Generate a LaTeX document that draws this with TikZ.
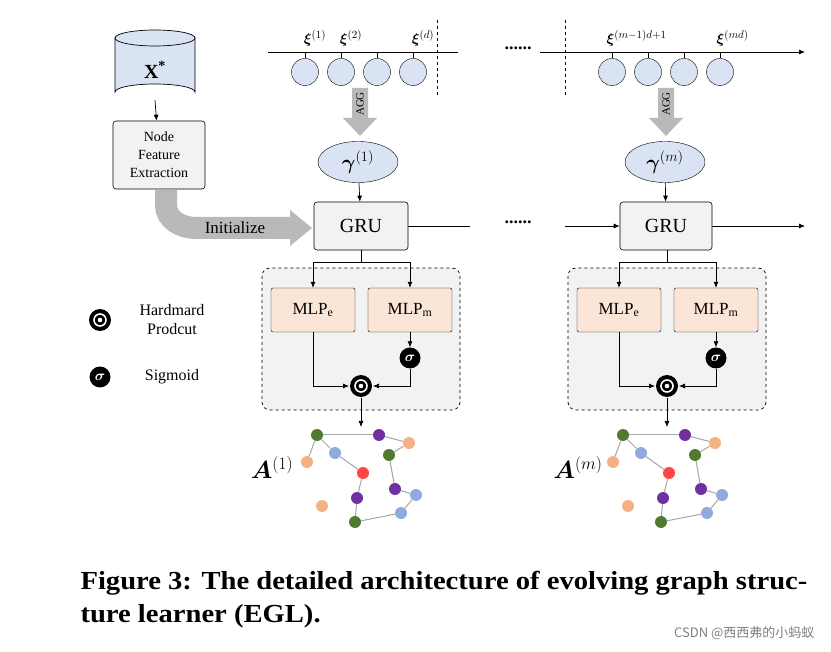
\documentclass[tikz,border=0pt]{standalone}
\usepackage{fontspec}
\usepackage{amsmath,bm}
\setmainfont{Liberation Serif}
\newfontfamily\cjk{Noto Sans CJK SC}
\usetikzlibrary{arrows.meta,shapes.geometric,calc}
\definecolor{nblue}{HTML}{DAE3F3}
\definecolor{ngray}{HTML}{F2F2F2}
\definecolor{npeach}{HTML}{FBE5D6}
\definecolor{gGreen}{HTML}{507A32}
\definecolor{gPurple}{HTML}{7030A0}
\definecolor{gOrange}{HTML}{F4B183}
\definecolor{gBlue}{HTML}{8FAADC}
\definecolor{gRed}{HTML}{FF4545}
\tikzset{
  box/.style={draw, rounded corners=3pt, fill=ngray, line width=0.6pt},
  mlp/.style={draw, rounded corners=2pt, fill=npeach, minimum width=84pt, minimum height=44pt, font=\fontsize{17}{19}\selectfont},
  slot/.style={circle, draw, fill=nblue, minimum size=27pt, inner sep=0pt},
  arr/.style={-{Latex[length=6pt,width=5pt]}, line width=0.7pt},
  sig/.style={circle, fill=black, text=white, minimum size=21pt, inner sep=0pt, font=\fontsize{15}{15}\selectfont},
  xi/.style={font=\fontsize{15}{15}\selectfont},
  gn/.style={circle, fill=#1, minimum size=12pt, inner sep=0pt},
  ge/.style={draw=gray!70, line width=1pt},
  agg/.style={fill=gray!55, draw=none},
  captxt/.style={anchor=west, font=\fontsize{26}{26}\selectfont\bfseries},
  pics/hada/.style={code={
    \fill[black] (0,0) circle (11pt);
    \draw[white, line width=1.6pt] (0,0) circle (6pt);
    \fill[white] (0,0) circle (2.3pt);}}
}
\begin{document}
\begin{tikzpicture}[x=1pt,y=-1pt]
\useasboundingbox (0,0) rectangle (831,652);

% cylinder input
\fill[nblue] (115,38) -- (115,92) arc[start angle=180,end angle=360,x radius=40,y radius=8] -- (195,38) -- cycle;
\draw[line width=0.7pt] (115,38) -- (115,92) arc[start angle=180,end angle=360,x radius=40,y radius=8] -- (195,38);
\draw[line width=0.7pt, fill=nblue] (155,38) ellipse[x radius=40, y radius=8];
\node[font=\fontsize{20}{20}\selectfont\bfseries] (X) at (155,70) {X\textsuperscript{*}};
\coordinate (cylb) at (155,100);
\node[box, minimum width=92pt, minimum height=68pt, align=center, font=\fontsize{14}{18}\selectfont] (nfe) at (159,155) {Node\\Feature\\Extraction};
\draw[arr] (cylb) -- (nfe);

% initialize arrow
\draw[gray!55, line width=22pt] (166,190) -- (166,205) to[out=-90,in=180] (196,228) -- (292,228);
\fill[gray!55] (290,210) -- (312,228) -- (290,246) -- cycle;
\node[font=\fontsize{17}{17}\selectfont] at (235,228) {Initialize};

% timeline left
\draw[line width=0.8pt] (268,52) -- (458,52);
\draw[dashed, line width=0.8pt] (437,20) -- (437,96);
\foreach \i/\x in {1/305,2/341,3/377,4/413}{
  \draw (\x,52) -- (\x,58);
  \node[slot] (s\i) at (\x,72) {};
}
\node[xi] at (315,38) {$\bm{\xi}^{(1)}$};
\node[xi] at (351,38) {$\bm{\xi}^{(2)}$};
\node[xi] at (423,38) {$\bm{\xi}^{(d)}$};
\node[font=\fontsize{18}{18}\selectfont\bfseries] at (518,48) {......};

% timeline right
\draw[arr] (540,52) -- (805,52);
\draw[dashed, line width=0.8pt] (565,20) -- (565,96);
\foreach \i/\x in {5/612,6/648,7/684,8/720}{
  \draw (\x,52) -- (\x,58);
  \node[slot] (s\i) at (\x,72) {};
}
\node[xi, anchor=west] at (603,38) {$\bm{\xi}^{(m-1)d+1}$};
\node[xi, anchor=west] at (713,38) {$\bm{\xi}^{(md)}$};

% AGG arrows
\foreach \x in {360,666}{
  \fill[agg] (\x-8,88) rectangle (\x+8,118) (\x-17,118) -- (\x+17,118) -- (\x,136) -- cycle;
  \node[rotate=90, font=\fontsize{11}{11}\selectfont] at (\x,104) {AGG};
}

% gamma nodes and GRUs
\node[ellipse, draw, fill=nblue, minimum width=80pt, minimum height=40pt, font=\fontsize{22}{22}\selectfont] (g1) at (358,162) {$\bm{\gamma}^{(1)}$};
\node[ellipse, draw, fill=nblue, minimum width=80pt, minimum height=40pt, font=\fontsize{22}{22}\selectfont] (gm) at (665,162) {$\bm{\gamma}^{(m)}$};
\node[box, minimum width=94pt, minimum height=48pt, font=\fontsize{20}{20}\selectfont] (gru1) at (361,226) {GRU};
\node[box, minimum width=92pt, minimum height=48pt, font=\fontsize{20}{20}\selectfont] (grum) at (666,226) {GRU};
\draw[arr] (g1) -- (gru1);
\draw[arr] (gm) -- (grum);
\coordinate (h1) at (470,226);
\coordinate (h2) at (565,226);
\coordinate (hend) at (805,226);
\draw[line width=0.7pt] (gru1) -- (h1);
\node[font=\fontsize{18}{18}\selectfont\bfseries] at (518,222) {......};
\draw[arr] (h2) -- (grum);
\draw[arr] (grum) -- (hend);

% two decoder blocks
\foreach \dx/\sup/\tag in {0/1/a,306/m/b}{
  \begin{scope}[xshift=\dx]
    \draw[dashed, rounded corners=8pt, fill=ngray, line width=0.7pt] (262,268) rectangle (460,410);
    \node[mlp] (me\tag) at (313,310) {MLP\textsubscript{e}};
    \node[mlp] (mm\tag) at (410,310) {MLP\textsubscript{m}};
    \node[sig] (sg\tag) at (410,358) {$\bm{\sigma}$};
    \coordinate (hd\tag) at (361,386);
    \pic at (hd\tag) {hada};
    \draw[arr] (361,250) -- (361,262) -| (me\tag);
    \draw[arr] (361,262) -| (mm\tag);
    \draw[arr] (mm\tag) -- (sg\tag);
    \draw[arr] (me\tag.south) |- ($(hd\tag)+(-12,0)$);
    \draw[arr] (sg\tag.south) |- ($(hd\tag)+(12,0)$);
    \draw[arr] ($(hd\tag)+(0,12)$) -- (361,427);
    % graph
    \node[gn=gGreen] (n1\tag) at (317,435) {};
    \node[gn=gPurple] (n2\tag) at (379,435) {};
    \node[gn=gOrange] (n3\tag) at (409,443) {};
    \node[gn=gGreen] (n4\tag) at (389,455) {};
    \node[gn=gBlue] (n5\tag) at (335,453) {};
    \node[gn=gOrange] (n6\tag) at (307,462) {};
    \node[gn=gRed] (n7\tag) at (363,473) {};
    \node[gn=gPurple] (n8\tag) at (395,489) {};
    \node[gn=gBlue] (n9\tag) at (416,495) {};
    \node[gn=gPurple] (n10\tag) at (357,498) {};
    \node[gn=gOrange] (n11\tag) at (322,506) {};
    \node[gn=gBlue] (n12\tag) at (401,513) {};
    \node[gn=gGreen] (n13\tag) at (355,522) {};
    \foreach \u/\v in {1/2,2/3,3/4,4/8,8/9,9/12,12/13,13/10,10/7,7/5,5/1,1/6}{
      \draw[ge] (n\u\tag) -- (n\v\tag);
    }
    \node[font=\fontsize{26}{26}\selectfont] at (272,468) {$\bm{A}^{(\sup)}$};
  \end{scope}
}

% legend
\pic at (100,320) {hada};
\node[font=\fontsize{16}{19}\selectfont, align=center] at (172,320) {Hardmard\\Prodcut};
\node[sig] (lsig) at (100,377) {$\bm{\sigma}$};
\node[font=\fontsize{16}{16}\selectfont] at (172,377) {Sigmoid};

% caption
\node[captxt] at (77,583) {\scalebox{1.1}[1]{Figure 3: The detailed architecture of evolving graph struc-}};
\node[captxt] at (77,616) {\scalebox{1.1}[1]{ture learner (EGL).}};
\node[anchor=east, font=\fontsize{13}{13}\selectfont\cjk, text=gray] at (818,633) {CSDN @西西弗的小蚂蚁};
\end{tikzpicture}
\end{document}
